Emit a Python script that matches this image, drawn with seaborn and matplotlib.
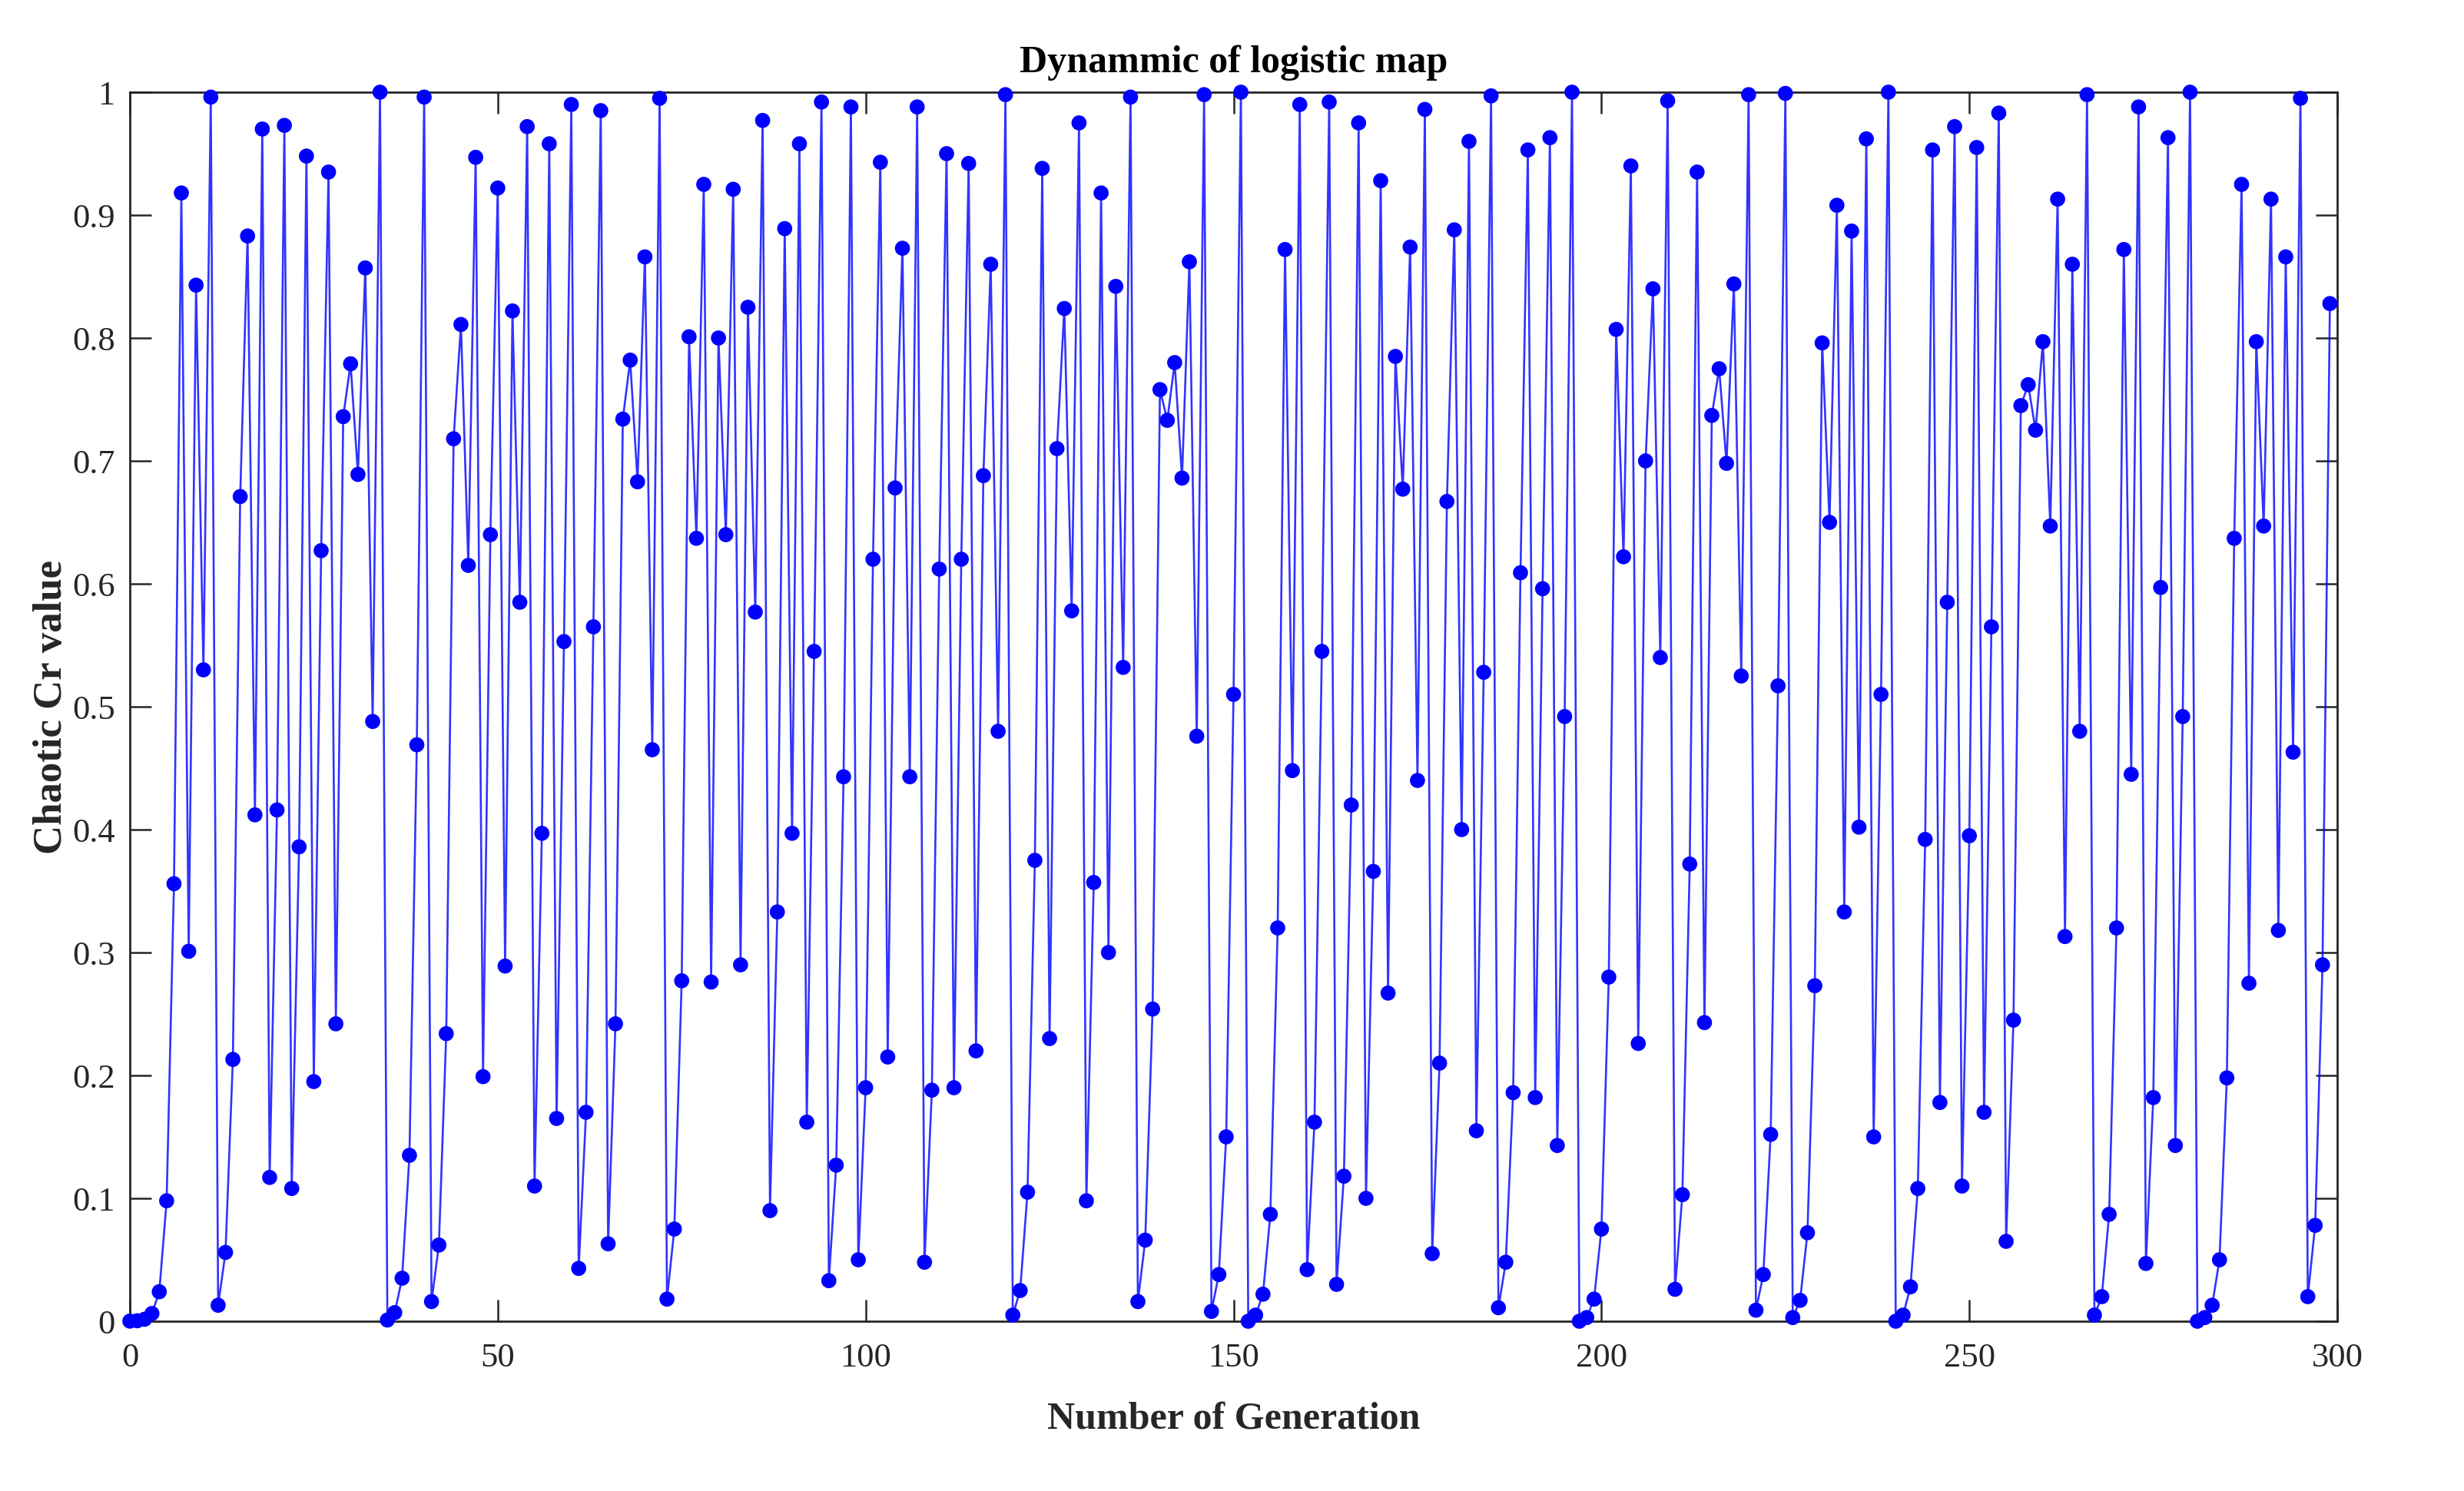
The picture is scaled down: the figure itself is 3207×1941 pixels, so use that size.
import numpy as np
import pandas as pd
import matplotlib
matplotlib.use("Agg")
import matplotlib.pyplot as plt
import seaborn as sns

# ---- data ----
chaotic_values = [
    0.0001, 0.0004, 0.0016, 0.0063, 0.024, 0.098, 0.356, 0.918, 0.301, 0.843,
    0.530, 0.996, 0.013, 0.056, 0.213, 0.671, 0.883, 0.412, 0.970, 0.117,
    0.416, 0.973, 0.108, 0.386, 0.948, 0.195, 0.627, 0.935, 0.242, 0.736,
    0.779, 0.689, 0.857, 0.488, 1.000, 0.001, 0.007, 0.035, 0.135, 0.469,
    0.996, 0.016, 0.062, 0.234, 0.718, 0.811, 0.615, 0.947, 0.199, 0.640,
    0.922, 0.289, 0.822, 0.585, 0.972, 0.110, 0.397, 0.958, 0.165, 0.553,
    0.990, 0.043, 0.170, 0.565, 0.985, 0.063, 0.242, 0.734, 0.782, 0.683,
    0.866, 0.465, 0.995, 0.018, 0.075, 0.277, 0.801, 0.637, 0.925, 0.276,
    0.800, 0.640, 0.921, 0.290, 0.825, 0.577, 0.977, 0.090, 0.333, 0.889,
    0.397, 0.958, 0.162, 0.545, 0.992, 0.033, 0.127, 0.443, 0.988, 0.050,
    0.190, 0.620, 0.943, 0.215, 0.678, 0.873, 0.443, 0.988, 0.048, 0.188,
    0.612, 0.950, 0.190, 0.620, 0.942, 0.220, 0.688, 0.860, 0.480, 0.998,
    0.005, 0.025, 0.105, 0.375, 0.938, 0.230, 0.710, 0.824, 0.578, 0.975,
    0.098, 0.357, 0.918, 0.300, 0.842, 0.532, 0.996, 0.016, 0.066, 0.254,
    0.758, 0.733, 0.780, 0.686, 0.862, 0.476, 0.998, 0.008, 0.038, 0.150,
    0.510, 1.000, 0.000, 0.005, 0.022, 0.087, 0.320, 0.872, 0.448, 0.990,
    0.042, 0.162, 0.545, 0.992, 0.030, 0.118, 0.420, 0.975, 0.100, 0.366,
    0.928, 0.267, 0.785, 0.677, 0.874, 0.440, 0.986, 0.055, 0.210, 0.667,
    0.888, 0.400, 0.960, 0.155, 0.528, 0.997, 0.011, 0.048, 0.186, 0.609,
    0.953, 0.182, 0.596, 0.963, 0.143, 0.492, 1.000, 0.000, 0.003, 0.018,
    0.075, 0.280, 0.807, 0.622, 0.940, 0.226, 0.700, 0.840, 0.540, 0.993,
    0.026, 0.103, 0.372, 0.935, 0.243, 0.737, 0.775, 0.698, 0.844, 0.525,
    0.998, 0.009, 0.038, 0.152, 0.517, 0.999, 0.003, 0.017, 0.072, 0.273,
    0.796, 0.650, 0.908, 0.333, 0.887, 0.402, 0.962, 0.150, 0.510, 1.000,
    0.000, 0.005, 0.028, 0.108, 0.392, 0.953, 0.178, 0.585, 0.972, 0.110,
    0.395, 0.955, 0.170, 0.565, 0.983, 0.065, 0.245, 0.745, 0.762, 0.725,
    0.797, 0.647, 0.913, 0.313, 0.860, 0.480, 0.998, 0.005, 0.020, 0.087,
    0.320, 0.872, 0.445, 0.988, 0.047, 0.182, 0.597, 0.963, 0.143, 0.492,
    1.000, 0.000, 0.003, 0.013, 0.050, 0.198, 0.637, 0.925, 0.275, 0.797,
    0.647, 0.913, 0.318, 0.866, 0.463, 0.995, 0.020, 0.078, 0.290, 0.828,
]
generations = list(range(len(chaotic_values)))

x_ticks = [0, 50, 100, 150, 200, 250, 300]
x_tick_labels = ["0", "50", "100", "150", "200", "250", "300"]
y_ticks = [0, 0.1, 0.2, 0.3, 0.4, 0.5, 0.6, 0.7, 0.8, 0.9, 1.0]
y_tick_labels = ["0", "0.1", "0.2", "0.3", "0.4", "0.5", "0.6", "0.7", "0.8", "0.9", "1"]

title_text = "Dynammic of logistic map"
x_label = "Number of Generation"
y_label = "Chaotic Cr value"

df = pd.DataFrame({"gen": generations, "value": chaotic_values})

# ---- style ----
sns.set_theme(style="white")
plt.rcParams["font.family"] = ["Liberation Serif", "DejaVu Serif"]
plt.rcParams["axes.edgecolor"] = "#262626"

fig = plt.figure(figsize=(32.07, 19.41), dpi=100)
ax = fig.add_axes([169 / 3207, 1 - 1720 / 1941, (3042 - 169) / 3207, (1720 - 120) / 1941])

sns.lineplot(data=df, x="gen", y="value", ax=ax, color="#0000ff",
             linewidth=1.9, alpha=0.8, sort=False)
sns.scatterplot(data=df, x="gen", y="value", ax=ax, color="#0000ff",
                s=200, marker="o", edgecolor="none", linewidth=0, zorder=3,
                clip_on=False)

ax.set_xlim(0, 300)
ax.set_ylim(0, 1)
ax.set_xticks(x_ticks)
ax.set_xticklabels(x_tick_labels)
ax.set_yticks(y_ticks)
ax.set_yticklabels(y_tick_labels)

for sp in ax.spines.values():
    sp.set_visible(True)
    sp.set_linewidth(2.0)
    sp.set_color("#262626")
    sp.set_zorder(2)

ax.tick_params(axis="both", which="major", direction="in", length=20, width=1.8,
               color="#262626", top=True, right=True, bottom=True, left=True,
               labelsize=32, labelcolor="#262626")
ax.tick_params(axis="x", pad=20)
ax.tick_params(axis="y", pad=14)
ax.grid(False)

ax.set_xlabel(x_label, fontsize=36, fontweight="bold", color="#262626")
ax.xaxis.label.set_va("center")
ax.xaxis.set_label_coords(0.5, (1720 - 1848) / 1600)
ax.set_ylabel(y_label, fontsize=38, fontweight="bold", color="#262626")
ax.yaxis.label.set_va("center")
ax.yaxis.set_label_coords((67 - 169) / 2873, 0.5)

ax.set_title(title_text, fontsize=36, fontweight="bold", color="black",
             y=(1720 - 90) / 1600, va="center")

fig.savefig("out.png", dpi=100, facecolor="white")
